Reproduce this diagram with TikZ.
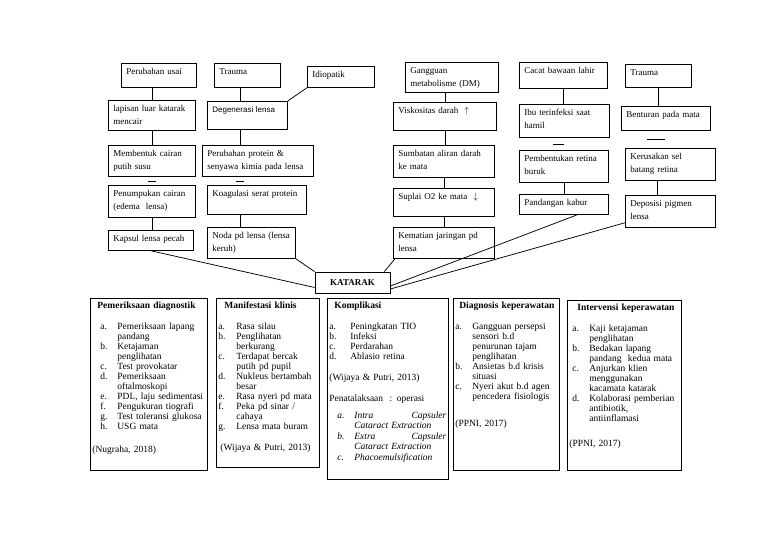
\documentclass[tikz,border=0pt]{standalone}
\usepackage{fontspec}
\setmainfont{Liberation Serif}
\setsansfont{Liberation Sans}
\usepackage{enumitem}
\setlist[enumerate]{label=\alph*., align=left, labelsep=5pt, labelwidth=12pt, leftmargin=17pt,
    itemsep=0pt, parsep=0pt, topsep=11pt, partopsep=0pt}
\usepackage{tikz}
\usetikzlibrary{calc}

\begin{document}
\begin{tikzpicture}[x=1pt, y=-1pt, line width=0.75pt,
        kotak/.style={draw, anchor=north west, align=left, inner xsep=5pt, inner ysep=3pt,
            text height=8pt, font=\fontsize{9}{13}\selectfont},
        panel/.style={draw, anchor=north west, align=left, inner xsep=2pt, inner ysep=3pt,
            text height=7pt, font=\fontsize{9.5}{10}\selectfont}]
        \path[use as bounding box, fill=white] (0,0) rectangle (768,543);

        % Kolom 1: perubahan usia
        \node[kotak, text width=65pt, text depth=10pt] (usia) at (121,63) {Perubahan usai};
        \node[kotak, text width=77pt, text depth=16pt] (lapisan) at (108,100) {lapisan luar katarak\\mencair};
        \node[kotak, text width=77pt, text depth=17pt] (membentuk) at (108,145) {Membentuk cairan\\putih susu};
        \node[kotak, text width=77pt, text depth=18pt] (penumpukan) at (108,185) {Penumpukan cairan\\(edema~ lensa)};
        \node[kotak, text width=75pt, text depth=6pt] (kapsul) at (108,230) {Kapsul lensa pecah};
        \draw (usia.south -| lapisan.north) -- (lapisan.north);
        \draw (lapisan.south) -- (membentuk.north);
        \draw ([xshift=-4pt]$(membentuk.south)!.5!(penumpukan.north)$) -- ++(8,0);
        \draw (penumpukan.south) -- (penumpukan.south |- kapsul.north);

        % Kolom 2: trauma / idiopatik
        \node[kotak, text width=56pt, text depth=10pt] (trauma1) at (214,63) {Trauma};
        \node[kotak, text width=57pt, text depth=7pt] (idiopatik) at (307,66) {Idiopatik};
        \node[kotak, text width=70pt, text depth=14pt, font=\sffamily\fontsize{8}{10}\selectfont] (degenerasi) at (207,101) {Degenerasi lensa};
        \node[kotak, text width=101pt, text depth=17pt] (protein) at (202,145) {Perubahan protein \&\\senyawa kimia pada lensa};
        \node[kotak, text width=89pt, text depth=15pt] (koagulasi) at (207,185) {Koagulasi serat protein};
        \node[kotak, text width=78pt, text depth=17pt] (noda) at (207,227) {Noda pd lensa (lensa\\keruh)};
        \draw ([xshift=-7pt]trauma1.south) -- ([xshift=-7pt]degenerasi.north);
        \draw (degenerasi.north east) -- (idiopatik.south west);
        \draw ([xshift=-7pt]degenerasi.south) -- ([xshift=-17.5pt]protein.north);
        \draw ([xshift=-21pt]$(protein.south)!.5!(koagulasi.north)$) -- ++(8,0);
        \draw ([xshift=-16.5pt]koagulasi.south) -- ([xshift=-11pt]noda.north);

        % Kolom 3: DM
        \node[kotak, text width=83pt, text depth=16pt] (gangguan) at (405,62) {Gangguan\\metabolisme (DM)};
        \node[kotak, text width=93pt, text depth=14pt] (viskositas) at (393,102) {Viskositas darah\hspace{6pt}$\uparrow$};
        \node[kotak, text width=91pt, text depth=18pt] (sumbatan) at (393,145) {Sumbatan aliran darah\\ke mata};
        \node[kotak, text width=91pt, text depth=14pt] (suplai) at (393,188) {Suplai O2 ke mata\hspace{6pt}$\downarrow$};
        \node[kotak, text width=91pt, text depth=17pt] (kematian) at (393,227) {Kematian jaringan pd\\lensa};
        \draw (gangguan.south -| viskositas.north) -- (viskositas.north);
        \draw (viskositas.south) -- (viskositas.south |- sumbatan.north);
        \draw (sumbatan.south) -- (suplai.north);
        \draw (suplai.south) -- (kematian.north);

        % Kolom 4: bawaan lahir
        \node[kotak, text width=78pt, text depth=12pt] (cacat) at (519,62) {Cacat bawaan lahir};
        \node[kotak, text width=80pt, text depth=19pt] (ibu) at (519,104) {Ibu terinfeksi saat\\hamil};
        \node[kotak, text width=79pt, text depth=18pt] (pembentukan) at (519,150) {Pembentukan retina\\buruk};
        \node[kotak, text width=79pt, text depth=6pt] (kabur) at (519,194) {Pandangan kabur};
        \draw (cacat.south) -- (cacat.south |- ibu.north);
        \draw ([xshift=-11pt]$(ibu.south)!.5!(pembentukan.north)$) -- ++(11,0);
        \draw (pembentukan.south) -- (pembentukan.south |- kabur.north);

        % Kolom 5: trauma mata
        \node[kotak, text width=56pt, text depth=9pt] (trauma2) at (625,64) {Trauma};
        \node[kotak, text width=79pt, text depth=10pt] (benturan) at (621,106) {Benturan pada mata};
        \node[kotak, text width=80pt, text depth=18pt] (kerusakan) at (625,148) {Kerusakan sel\\batang retina};
        \node[kotak, text width=80pt, text depth=18pt] (deposisi) at (625,195) {Deposisi pigmen\\lensa};
        \draw (trauma2.south) -- (trauma2.south |- benturan.north);
        \draw ([xshift=-21pt]$(benturan.south)!.5!(kerusakan.north)$) -- ++(18,0);
        \draw ([xshift=-13pt]kerusakan.south) -- ([xshift=-13pt]deposisi.north);

        % Katarak
        \node[draw, minimum width=75pt, minimum height=21pt, inner sep=0pt,
            font=\fontsize{9}{11}\selectfont\bfseries] (katarak) at (352.5,282.5) {KATARAK};
        \draw (kapsul.south) -- ([yshift=-5pt]katarak.west);
        \draw (noda.south east) -- (katarak.north west);
        \draw ([xshift=2pt]kematian.south west) -- ([xshift=-6pt]katarak.north east);
        \draw ([xshift=13.5pt]kabur.south) -- ([yshift=-3.5pt]katarak.east);
        \draw ([yshift=5pt]deposisi.south west) -- ([yshift=-6.5pt]katarak.east);

        % Kotak bawah
        \node[panel, text width=113pt, text depth=159pt] (diagnostik) at (90,298) {%
            \hspace*{5pt}\textbf{Pemeriksaan diagnostik}
            \begin{enumerate}[leftmargin=25pt]
                \item Pemeriksaan lapang\newline pandang
                \item Ketajaman\newline penglihatan
                \item Test provokatar
                \item Pemeriksaan\newline oftalmoskopi
                \item PDL, laju sedimentasi
                \item Pengukuran tiografi
                \item Test toleransi glukosa
                \item USG mata
            \end{enumerate}
            \vspace{2pt}(Nugraha, 2018)};
        \node[panel, text width=99pt, text depth=156pt] (klinis) at (216,298) {%
            \hspace*{6pt}\textbf{Manifestasi klinis}
            \begin{enumerate}[leftmargin=18pt, labelwidth=13pt]
                \item Rasa silau
                \item Penglihatan\newline berkurang
                \item Terdapat bercak\newline putih pd pupil
                \item Nukleus bertambah\newline besar
                \item Rasa nyeri pd mata
                \item Peka pd sinar /\newline cahaya
                \item Lensa mata buram
            \end{enumerate}
            \hspace*{2pt}(Wijaya \& Putri, 2013)};
        \node[panel, text width=117pt, text depth=168pt] (komplikasi) at (327,298) {%
            \hspace*{5pt}\textbf{Komplikasi}
            \begin{enumerate}[leftmargin=21pt, labelwidth=16pt]
                \item Peningkatan TIO
                \item Infeksi
                \item Perdarahan
                \item Ablasio retina
            \end{enumerate}
            (Wijaya \& Putri, 2013)\par\vspace{11pt}
            Penatalaksaan~ : operasi
            \begin{enumerate}[label=\textit{\alph*.}, leftmargin=25pt, topsep=7pt, itemsep=1pt]
                \item \textit{Intra\hskip0pt plus1fill Capsuler\newline Cataract Extraction}
                \item \textit{Extra\hskip0pt plus1fill Capsuler\newline Cataract Extraction}
                \item \textit{Phacoemulsification}
            \end{enumerate}};
        \node[panel, text width=102pt, text depth=159pt] (dxkep) at (453,298) {%
            \hspace*{4pt}\textbf{Diagnosis keperawatan}
            \begin{enumerate}
                \item Gangguan persepsi\newline sensori b.d\newline penurunan tajam\newline penglihatan
                \item Ansietas b.d krisis\newline situasi
                \item Nyeri akut b.d agen\newline pencedera fisiologis
            \end{enumerate}
            \vspace{6pt}(PPNI, 2017)};
        \node[panel, text width=110pt, text depth=157pt] (intervensi) at (567,300) {%
            \hspace*{8pt}\textbf{Intervensi keperawatan}
            \begin{enumerate}[leftmargin=20pt]
                \item Kaji ketajaman\newline penglihatan
                \item Bedakan lapang\newline pandang~ kedua mata
                \item Anjurkan klien\newline menggunakan\newline kacamata katarak
                \item Kolaborasi pemberian\newline antibiotik,\newline antiinflamasi
            \end{enumerate}
            \vspace{4pt}(PPNI, 2017)};
    \end{tikzpicture}
\end{document}
